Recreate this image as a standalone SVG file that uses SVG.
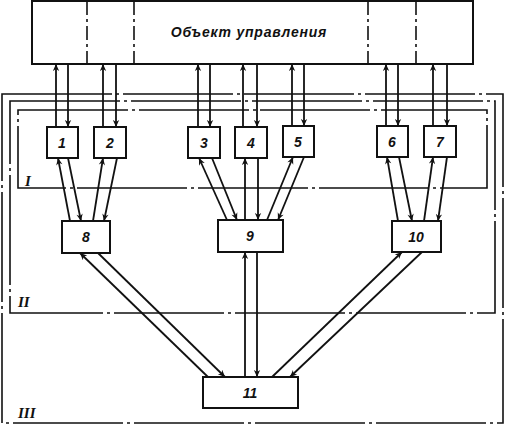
<svg xmlns="http://www.w3.org/2000/svg" width="505" height="426" viewBox="0 0 505 426">
<defs>
<marker id="ah" viewBox="0 0 10 10" refX="10" refY="5" markerWidth="10" markerHeight="7" markerUnits="userSpaceOnUse" orient="auto">
<path d="M0,0.5 L10,5 L0,9.5 L3,5 Z" fill="#111"/>
</marker>
<style>
.box{fill:#fff;stroke:#111;stroke-width:2}
.frame{fill:none;stroke:#111;stroke-width:1.6;stroke-dasharray:110 4 3 4}
.div{stroke:#111;stroke-width:1.6;stroke-dasharray:14 4 3 4}
.lbl{font-family:"Liberation Sans",Arial,sans-serif;font-style:italic;font-weight:bold;font-size:14px;text-anchor:middle;fill:#111}
.rom{font-family:"Liberation Serif","Times New Roman",serif;font-style:italic;font-weight:bold;font-size:15px;fill:#111}
.title{font-family:"Liberation Sans",Arial,sans-serif;font-style:italic;font-weight:bold;font-size:14px;text-anchor:middle;fill:#111;letter-spacing:0.8px}
#conn line{stroke:#111;stroke-width:1.8;marker-end:url(#ah)}
</style>
</defs>
<rect width="505" height="426" fill="#fff"/>
<g id="frames">
<rect class="frame" x="2" y="94" width="501" height="329"/>
<rect class="frame" x="10" y="101" width="485" height="212"/>
<rect class="frame" x="18" y="110" width="469" height="78"/>
<text class="rom" x="25" y="186">I</text>
<text class="rom" x="18" y="307">II</text>
<text class="rom" x="18" y="418">III</text>
</g>
<g id="object">
<rect class="box" x="32" y="1" width="441" height="63"/>
<line class="div" x1="87" y1="1" x2="87" y2="64"/>
<line class="div" x1="134" y1="1" x2="134" y2="64"/>
<line class="div" x1="368" y1="1" x2="368" y2="64"/>
<line class="div" x1="416" y1="1" x2="416" y2="64"/>
<text class="title" x="249" y="37">Объект управления</text>
</g>
<g id="n1"><rect class="box" x="47" y="127" width="31" height="31"/><text class="lbl" x="62" y="148">1</text></g>
<g id="n2"><rect class="box" x="94" y="127" width="32" height="31"/><text class="lbl" x="110" y="148">2</text></g>
<g id="n3"><rect class="box" x="188" y="127" width="32" height="31"/><text class="lbl" x="204" y="148">3</text></g>
<g id="n4"><rect class="box" x="235" y="127" width="32" height="31"/><text class="lbl" x="251" y="148">4</text></g>
<g id="n5"><rect class="box" x="283" y="126" width="31" height="31"/><text class="lbl" x="298" y="147">5</text></g>
<g id="n6"><rect class="box" x="377" y="126" width="31" height="31"/><text class="lbl" x="392" y="147">6</text></g>
<g id="n7"><rect class="box" x="424" y="126" width="32" height="31"/><text class="lbl" x="440" y="147">7</text></g>
<g id="n8"><rect class="box" x="62" y="221" width="48" height="32"/><text class="lbl" x="86" y="242">8</text></g>
<g id="n9"><rect class="box" x="218" y="220" width="65" height="32"/><text class="lbl" x="250" y="241">9</text></g>
<g id="n10"><rect class="box" x="392" y="221" width="49" height="31"/><text class="lbl" x="416" y="242">10</text></g>
<g id="n11"><rect class="box" x="203" y="377" width="95" height="31"/><text class="lbl" x="250" y="398">11</text></g>
<g id="conn">
<line x1="56" y1="127" x2="56" y2="64"/>
<line x1="68" y1="64" x2="68" y2="127"/>
<line x1="103" y1="127" x2="103" y2="64"/>
<line x1="116" y1="64" x2="116" y2="127"/>
<line x1="198" y1="127" x2="198" y2="64"/>
<line x1="210" y1="64" x2="210" y2="127"/>
<line x1="243" y1="127" x2="243" y2="64"/>
<line x1="257" y1="64" x2="257" y2="127"/>
<line x1="292" y1="126" x2="292" y2="64"/>
<line x1="304" y1="64" x2="304" y2="126"/>
<line x1="386" y1="126" x2="386" y2="64"/>
<line x1="398" y1="64" x2="398" y2="126"/>
<line x1="433" y1="126" x2="433" y2="64"/>
<line x1="447" y1="64" x2="447" y2="126"/>

<line x1="70" y1="221" x2="58" y2="158"/>
<line x1="68" y1="158" x2="81" y2="221"/>
<line x1="93" y1="221" x2="103" y2="158"/>
<line x1="117" y1="158" x2="104" y2="221"/>

<line x1="227" y1="220" x2="199" y2="158"/>
<line x1="212" y1="158" x2="237" y2="220"/>
<line x1="245" y1="220" x2="245" y2="158"/>
<line x1="258" y1="158" x2="258" y2="220"/>
<line x1="267" y1="220" x2="293" y2="157"/>
<line x1="304" y1="157" x2="278" y2="220"/>

<line x1="398" y1="221" x2="387" y2="157"/>
<line x1="399" y1="157" x2="412" y2="221"/>
<line x1="424" y1="221" x2="433" y2="157"/>
<line x1="447" y1="157" x2="438" y2="221"/>

<line x1="208" y1="377" x2="80" y2="253"/>
<line x1="98" y1="253" x2="225" y2="377"/>
<line x1="245" y1="377" x2="245" y2="252"/>
<line x1="257" y1="252" x2="257" y2="377"/>
<line x1="272" y1="377" x2="402" y2="252"/>
<line x1="422" y1="252" x2="290" y2="377"/>
</g>
</svg>
